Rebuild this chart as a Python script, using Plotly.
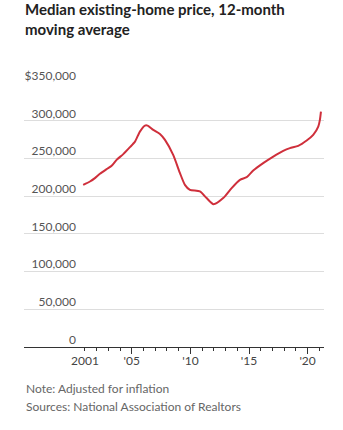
import plotly.graph_objects as go

# Median existing-home price, 12-month moving average (inflation adjusted)
years = [2000.85, 2001.43, 2001.85, 2002.28, 2002.85, 2003.28, 2003.70, 2004.27,
         2004.84, 2005.27, 2005.69, 2006.12, 2006.35, 2006.83, 2007.40, 2007.83,
         2008.53, 2009.11, 2009.53, 2009.96, 2010.81, 2011.38, 2011.97, 2012.80,
         2013.52, 2014.23, 2014.80, 2015.36, 2016.21, 2017.07, 2017.92, 2018.49,
         2019.20, 2019.92, 2020.48, 2020.91, 2021.05, 2021.14]
prices = [215000, 219400, 223900, 229600, 235800, 240200, 248100, 255700,
          264900, 272300, 285600, 293500, 293500, 287800, 282500, 274600,
          254700, 230500, 215000, 208400, 206200, 197400, 189200, 197400,
          210700, 221600, 225200, 234000, 243800, 252500, 260000, 263600,
          266600, 273700, 281200, 292200, 301100, 312000]

y_ticks = [0, 50000, 100000, 150000, 200000, 250000, 300000, 350000]
y_labels = ["0", "50,000", "100,000", "150,000", "200,000", "250,000", "300,000", "$350,000"]
x_ticks = [2001, 2005, 2010, 2015, 2020]
x_labels = ["2001", "'05", "'10", "'15", "'20"]
x_major = [2005, 2010, 2015, 2020]
x_minor = list(range(2001, 2022))

FONT = "Lato"
RED = "#cf2f3b"
W, H = 343, 430
L, R, T, B = 24, 19, 83, 82.5

fig = go.Figure()
fig.add_trace(go.Scatter(x=years, y=prices, mode="lines",
                         line=dict(color=RED, width=2, shape="spline", smoothing=0.6),
                         hoverinfo="skip", showlegend=False))
# helper trace carrying the label axis and the long major ticks
fig.add_trace(go.Scatter(x=years, y=prices, mode="lines", xaxis="x2", yaxis="y2",
                         line=dict(color="rgba(0,0,0,0)", width=0),
                         hoverinfo="skip", showlegend=False))

x_range = [1995.8, 2021.4]
fig.update_layout(
    width=W, height=H,
    margin=dict(l=L, r=R, t=T, b=B),
    paper_bgcolor="white", plot_bgcolor="white",
    title=dict(text="<b>Median existing-home price, 12-month<br>moving average</b>",
               x=25 / W, xanchor="left", xref="container",
               y=1 - 15 / H, yanchor="top", yref="container",
               font=dict(family=FONT, size=15, color="#222222")),
    xaxis=dict(range=x_range, tickvals=x_ticks, ticktext=x_labels,
               ticks="outside", ticklen=3, tickwidth=1, tickcolor="#333333",
               showline=True, linecolor="#333333", linewidth=1,
               showgrid=False, zeroline=False,
               minor=dict(tickvals=x_minor, ticks="outside", ticklen=3,
                          tickwidth=1, tickcolor="#333333", showgrid=False),
               tickfont=dict(family=FONT, size=12, color="#444444")),
    xaxis2=dict(range=x_range, overlaying="x", anchor="y", side="bottom",
                tickvals=x_major, ticks="outside", ticklen=6, tickwidth=1,
                tickcolor="#333333", showticklabels=False, showgrid=False,
                showline=False, zeroline=False),
    yaxis=dict(range=[0, 350000], tickvals=y_ticks, showticklabels=False,
               showgrid=True, gridcolor="#dddddd", gridwidth=1,
               zeroline=False, ticks=""),
    yaxis2=dict(range=[0, 350000], overlaying="y", anchor="free",
                position=(76 - L) / (W - L - R), side="left",
                tickvals=y_ticks, ticktext=y_labels, ticks="",
                ticklabelposition="outside top", ticklabelshift=1, showgrid=False,
                showline=False, zeroline=False,
                tickfont=dict(family=FONT, size=12, color="#555555")),
    annotations=[
        dict(text="Note: Adjusted for inflation", xref="paper", yref="paper",
             x=0, y=-(389 - (H - B)) / (H - T - B), xanchor="left", yanchor="middle",
             showarrow=False, font=dict(family=FONT, size=12, color="#666666")),
        dict(text="Sources: National Association of Realtors", xref="paper", yref="paper",
             x=0, y=-(407 - (H - B)) / (H - T - B), xanchor="left", yanchor="middle",
             showarrow=False, font=dict(family=FONT, size=12, color="#666666")),
    ],
)

fig.write_html("out.html")
